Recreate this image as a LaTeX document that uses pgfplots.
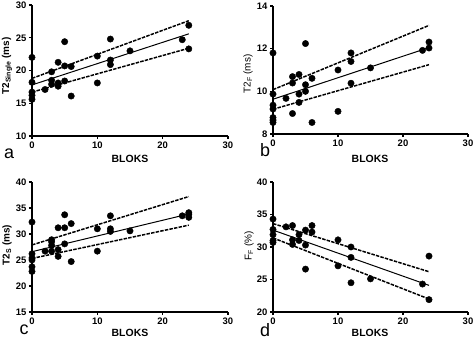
\documentclass[border=0pt]{standalone}
\usepackage{pgfplots}
\pgfplotsset{compat=1.18}
\usepackage{fontspec}
\setmainfont{Liberation Sans}
\pgfplotsset{
  panel/.style={
    scale only axis,
    axis x line=bottom, axis y line=left,
    axis line style={-, line width=1.1pt},
    tick align=outside, major tick length=3bp,
    every tick/.style={line width=1.1pt, black},
    xmin=0, xmax=30, xtick={0,10,20,30},
    /pgf/number format/assume math mode=true,
    tick label style={font=\bfseries\fontsize{9.5}{10}\selectfont},
    xticklabel style={yshift=1bp},
    yticklabel style={xshift=1bp},
    clip=false,
  },
  pts/.style={only marks, mark=*, mark size=3.2bp, black, mark options={fill=black}},
  fit/.style={black, line width=1pt, no marks},
  ci/.style={black, line width=1.5pt, dash pattern=on 3.5pt off 1.2pt, no marks},
}
\begin{document}
\begin{tikzpicture}
\useasboundingbox (0,0) rectangle (474bp,-341bp);
% ---------- a ----------
\begin{axis}[panel, at={(32bp,-136bp)}, anchor=south west, width=196bp, height=131bp,
  ymin=10, ymax=30, ytick={10,15,20,25,30}]
\addplot[pts] coordinates {(0,22.0)(0,18.2)(0,16.7)(0,16.2)(0,15.6)(2,17.1)(3,19.8)(3,18.5)(3,17.9)
 (4,21.25)(4,18.1)(4,17.6)(5,24.4)(5,20.7)(5,18.4)(6,20.6)(6,16.1)(10,22.2)(10,18.1)
 (12,24.8)(12,21.6)(12,20.9)(15,23.0)(23,24.7)(24,26.9)(24,23.3)};
\addplot[fit] coordinates {(0,17.8)(24,25.6)};
\addplot[ci] coordinates {(0,18.8)(24,27.6)};
\addplot[ci] coordinates {(0,16.7)(24,23.4)};
\end{axis}
% ---------- b ----------
\begin{axis}[panel, at={(273bp,-134bp)}, anchor=south west, width=195bp, height=128bp,
  ymin=8, ymax=14, ytick={8,10,12,14}]
\addplot[pts] coordinates {(0,11.8)(0,9.87)(0,9.35)(0,9.17)(0,8.77)(0,8.65)(0,8.54)(2,9.67)
 (3,10.69)(3,10.39)(3,8.96)(4,10.79)(4,9.87)(4,9.48)(5,12.24)(5,10.31)(5,10.0)(6,10.61)(6,8.54)
 (10,11.0)(10,9.06)(12,11.8)(12,11.4)(12,10.38)(15,11.1)(23,11.92)(24,12.31)(24,12.03)};
\addplot[fit] coordinates {(0,9.63)(24,12.05)};
\addplot[ci] coordinates {(0,10.08)(24,13.09)};
\addplot[ci] coordinates {(0,9.16)(24,11.25)};
\end{axis}
% ---------- c ----------
\begin{axis}[panel, at={(32bp,-312bp)}, anchor=south west, width=196bp, height=130bp,
  ymin=15, ymax=40, ytick={15,20,25,30,35,40}]
\addplot[pts] coordinates {(0,32.3)(0,26.2)(0,25.4)(0,25.0)(0,23.7)(0,22.8)(2,26.7)
 (3,28.9)(3,28.5)(3,27.8)(3,26.7)(4,31.2)(4,27.0)(4,25.7)(5,33.7)(5,31.2)(5,28.1)
 (6,32.0)(6,24.7)(10,31.0)(10,26.7)(12,33.5)(12,31.0)(12,30.5)(15,30.6)(23,33.5)
 (24,34.1)(24,33.8)(24,33.2)};
\addplot[fit] coordinates {(0,26.6)(24,33.85)};
\addplot[ci] coordinates {(0,27.9)(24,37.2)};
\addplot[ci] coordinates {(0,25.3)(24,31.7)};
\end{axis}
% ---------- d ----------
\begin{axis}[panel, at={(273bp,-312bp)}, anchor=south west, width=195bp, height=130bp,
  ymin=20, ymax=40, ytick={20,25,30,35,40}]
\addplot[pts] coordinates {(0,34.3)(0,32.7)(0,31.9)(0,31.0)(0,30.7)(2,33.1)(3,33.3)(3,31.1)(3,30.4)
 (4,31.9)(4,31.0)(5,32.6)(5,30.3)(5,26.6)(6,33.3)(6,32.3)(10,31.1)(10,27.1)
 (12,30.0)(12,28.4)(12,24.5)(15,25.1)(23,24.3)(24,28.6)(24,21.9)};
\addplot[fit] coordinates {(0,32.6)(24,24.1)};
\addplot[ci] coordinates {(0,33.6)(24,26.2)};
\addplot[ci] coordinates {(0,31.4)(24,22.0)};
\end{axis}
% ---------- labels ----------
\tikzset{xl/.style={font=\bfseries\fontsize{10.5}{12}\selectfont},
         yl/.style={rotate=90, font=\bfseries\fontsize{10}{12}\selectfont},
         pl/.style={font=\fontsize{18}{20}\selectfont}}
\node[xl] at (130bp,-159bp) {BLOKS};
\node[xl] at (370bp,-159bp) {BLOKS};
\node[xl] at (130bp,-333bp) {BLOKS};
\node[xl] at (370bp,-333bp) {BLOKS};
\node[pl] at (9bp,-154bp) {a};
\node[pl] at (265bp,-150bp) {b};
\node[pl] at (24bp,-330bp) {c};
\node[pl] at (265bp,-330bp) {d};
\node[yl] at (7bp,-66bp) {T2\textsubscript{Single} (ms)};
\node[yl, font=\fontsize{10}{12}\selectfont] at (248bp,-74bp) {T2\textsubscript{F} (ms)};
\node[yl] at (7bp,-245bp) {T2\textsubscript{S} (ms)};
\node[yl, font=\fontsize{10}{12}\selectfont] at (249bp,-246bp) {F\textsubscript{F} (\%)};
\end{tikzpicture}
\end{document}
